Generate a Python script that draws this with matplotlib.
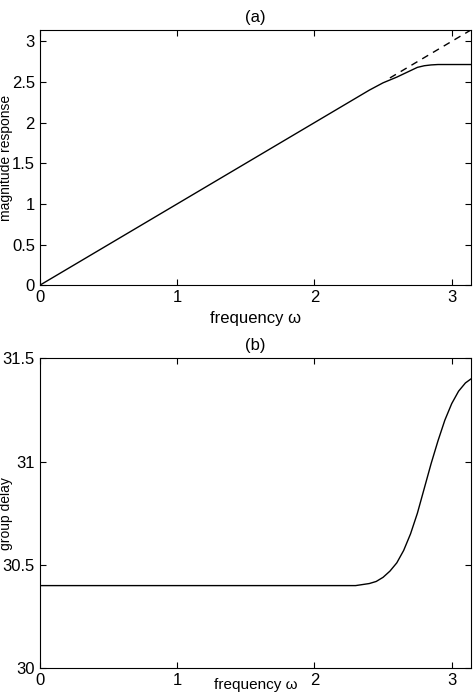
import numpy as np
from matplotlib import pyplot as plt

plt.rcParams['font.family'] = ['Liberation Sans', 'DejaVu Sans']

mag_w = [0.0, 1.0, 2.0, 2.4, 2.5, 2.6, 2.65, 2.7, 2.75, 2.8, 2.85, 2.9, 3.0, 3.1416]
mag_v = [0.0, 1.0, 2.0, 2.4, 2.49, 2.56, 2.6, 2.64, 2.68, 2.70, 2.71, 2.715, 2.715, 2.715]
ideal_w = [2.55, 3.1416]
ideal_v = [2.55, 3.1416]

# (b) group delay
gd_w = [0.0, 1.0, 2.0, 2.3, 2.4, 2.45, 2.5, 2.55, 2.6, 2.65, 2.7, 2.75, 2.8, 2.85, 2.9, 2.95, 3.0, 3.05, 3.1, 3.1416]
gd_v = [30.4, 30.4, 30.4, 30.4, 30.41, 30.42, 30.44, 30.47, 30.51, 30.57, 30.65, 30.75, 30.87, 30.99, 31.1, 31.2, 31.28, 31.34, 31.38, 31.4]

fig = plt.figure(figsize=(4.74, 6.94), dpi=100)
ax1 = fig.add_axes([0.084, 0.589, 0.91, 0.368])
ax2 = fig.add_axes([0.084, 0.037, 0.91, 0.447])

ax1.plot(mag_w, mag_v, color='black', lw=1)
ax1.plot(ideal_w, ideal_v, color='black', lw=1, ls=(0, (5, 4)))
ax1.set_xlim(0, np.pi)
ax1.set_ylim(0, np.pi)
ax1.set_yticks([0, 0.5, 1, 1.5, 2, 2.5, 3])
ax1.set_yticklabels(['0', '0.5', '1', '1.5', '2', '2.5', '3'])
ax1.set_xticks([0, 1, 2, 3])
ax1.set_xlabel('frequency ω', fontsize=12)
ax1.set_ylabel('magnitude response', fontsize=10)
ax1.set_title('(a)', fontsize=12, pad=6)

ax2.plot(gd_w, gd_v, color='black', lw=1)
ax2.set_xlim(0, np.pi)
ax2.set_ylim(30, 31.5)
ax2.set_yticks([30, 30.5, 31, 31.5])
ax2.set_yticklabels(['30', '30.5', '31', '31.5'])
ax2.set_xticks([0, 1, 2, 3])
ax2.set_ylabel('group delay', fontsize=10)
ax2.set_title('(b)', fontsize=12, pad=6)
fig.text(0.54, 0.003, 'frequency ω', fontsize=11, ha='center', va='bottom')

for ax in (ax1, ax2):
    ax.tick_params(direction='in', top=True, right=True, labelsize=12, length=4)
    ax.yaxis.set_label_coords(-0.063, 0.5)

fig.savefig('out.png', dpi=100)
